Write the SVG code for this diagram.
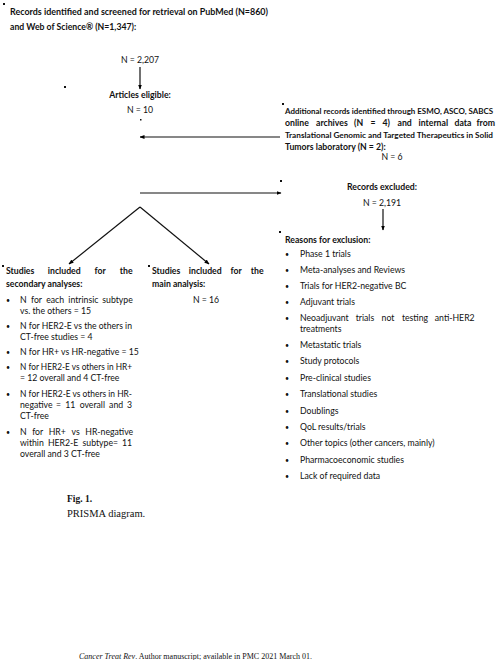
<svg xmlns="http://www.w3.org/2000/svg" width="500" height="660" viewBox="0 0 500 660">
<defs>
<marker id="ah" viewBox="0 0 10 10" refX="9" refY="5" markerWidth="5" markerHeight="5" orient="auto" markerUnits="userSpaceOnUse">
<path d="M0,1 L10,5 L0,9 z" fill="#000"/>
</marker>
</defs>
<style>
text{font-family:Lato,"Liberation Sans",Arial,sans-serif;font-size:8.7px;fill:#111}
.b{font-weight:bold}
.c{text-anchor:middle}
.u{font-size:7px}
.s{font-size:7.9px}
.cap{font-family:"Liberation Serif","Times New Roman",serif}
line{stroke:#111;stroke-width:1.2}
.dot{fill:#111}
</style>
<rect width="500" height="660" fill="#fff"/>
<g id="connectors">
<line x1="140" y1="67" x2="140" y2="89" marker-end="url(#ah)"/>
<line x1="280" y1="137" x2="140" y2="137" marker-end="url(#ah)"/>
<line x1="140" y1="193" x2="281" y2="193" marker-end="url(#ah)"/>
<line x1="383" y1="209" x2="383" y2="230" marker-end="url(#ah)"/>
<line x1="140" y1="207" x2="69" y2="264" marker-end="url(#ah)"/>
<line x1="140" y1="207" x2="209" y2="264" marker-end="url(#ah)"/>
</g>
<g id="records-identified">
<rect class="dot" x="3" y="3" width="2" height="2"/>
<text class="b" x="10" y="15" textLength="258" lengthAdjust="spacingAndGlyphs">Records identified and screened for retrieval on PubMed (N=860)</text>
<text class="b" x="10" y="30">and Web of Science® (N=1,347):</text>
<text class="c" x="140" y="63">N = 2,207</text>
</g>
<g id="articles-eligible">
<rect class="dot" x="64" y="86" width="2" height="2"/>
<text class="b c" x="140" y="98">Articles eligible:</text>
<text class="c" x="140" y="113">N = 10</text>
<rect class="dot" x="140" y="119" width="1.5" height="1.5"/>
</g>
<g id="additional-records">
<rect class="dot" x="282" y="103" width="2" height="2"/>
<text class="b s" x="285" y="114" textLength="208" lengthAdjust="spacingAndGlyphs">Additional records identified through ESMO, ASCO, SABCS</text>
<text class="b" y="126"><tspan x="285">online</tspan><tspan x="316">archives</tspan><tspan x="354">(N</tspan><tspan x="370.5">=</tspan><tspan x="382.5">4)</tspan><tspan x="397.5">and</tspan><tspan x="418.5">internal</tspan><tspan x="454.5">data</tspan><tspan x="476.5">from</tspan></text>
<text class="b s" x="285" y="138" textLength="208" lengthAdjust="spacingAndGlyphs">Translational Genomic and Targeted Therapeutics in Solid</text>
<text class="b" x="285" y="150">Tumors laboratory (N = 2):</text>
<text class="c" x="392" y="160">N = 6</text>
</g>
<g id="records-excluded">
<rect class="dot" x="280" y="180" width="2" height="2"/>
<text class="b c" x="382" y="190">Records excluded:</text>
<text class="c" x="382" y="206">N = 2,191</text>
</g>
<g id="reasons">
<rect class="dot" x="279" y="231" width="2" height="2"/>
<text class="b" x="285" y="243">Reasons for exclusion:</text>
<g>
<text class="u" x="285" y="257">•</text><text x="300" y="257">Phase 1 trials</text>
<text class="u" x="285" y="273">•</text><text x="300" y="273">Meta-analyses and Reviews</text>
<text class="u" x="285" y="289">•</text><text x="300" y="289">Trials for HER2-negative BC</text>
<text class="u" x="285" y="305">•</text><text x="300" y="305">Adjuvant trials</text>
<text class="u" x="285" y="321">•</text><text y="321"><tspan x="300">Neoadjuvant</tspan><tspan x="355.7">trials</tspan><tspan x="381.6">not</tspan><tspan x="401.9">testing</tspan><tspan x="434.8">anti-HER2</tspan></text>
<text x="300" y="332">treatments</text>
<text class="u" x="285" y="348">•</text><text x="300" y="348">Metastatic trials</text>
<text class="u" x="285" y="364">•</text><text x="300" y="364">Study protocols</text>
<text class="u" x="285" y="381">•</text><text x="300" y="381">Pre-clinical studies</text>
<text class="u" x="285" y="397">•</text><text x="300" y="397">Translational studies</text>
<text class="u" x="285" y="414">•</text><text x="300" y="414">Doublings</text>
<text class="u" x="285" y="430">•</text><text x="300" y="430">QoL results/trials</text>
<text class="u" x="285" y="446">•</text><text x="300" y="446">Other topics (other cancers, mainly)</text>
<text class="u" x="285" y="463">•</text><text x="300" y="463">Pharmacoeconomic studies</text>
<text class="u" x="285" y="479">•</text><text x="300" y="479">Lack of required data</text>
</g>
</g>
<g id="secondary-analyses">
<rect class="dot" x="2" y="265" width="2" height="2"/>
<text class="b" y="274"><tspan x="6">Studies</tspan><tspan x="47.8">included</tspan><tspan x="94.4">for</tspan><tspan x="119.8">the</tspan></text>
<text class="b" x="6" y="287">secondary analyses:</text>
<text class="u" x="6" y="303">•</text><text y="303"><tspan x="20">N</tspan><tspan x="31">for</tspan><tspan x="46.2">each</tspan><tspan x="68.3">intrinsic</tspan><tspan x="102.3">subtype</tspan></text>
<text x="20" y="314">vs. the others = 15</text>
<text class="u" x="6" y="329">•</text><text x="20" y="329" textLength="112" lengthAdjust="spacingAndGlyphs">N for HER2-E vs the others in</text>
<text x="20" y="340">CT-free studies = 4</text>
<text class="u" x="6" y="355">•</text><text x="20" y="355">N for HR+ vs HR-negative = 15</text>
<text class="u" x="6" y="370">•</text><text x="20" y="370" textLength="112" lengthAdjust="spacingAndGlyphs">N for HER2-E vs others in HR+</text>
<text x="20" y="381">= 12 overall and 4 CT-free</text>
<text class="u" x="6" y="397">•</text><text x="20" y="397" textLength="112" lengthAdjust="spacingAndGlyphs">N for HER2-E vs others in HR-</text>
<text y="408"><tspan x="20">negative</tspan><tspan x="56">=</tspan><tspan x="65.3">11</tspan><tspan x="79.7">overall</tspan><tspan x="109.1">and</tspan><tspan x="127">3</tspan></text>
<text x="20" y="419">CT-free</text>
<text class="u" x="6" y="435">•</text><text y="435"><tspan x="20">N</tspan><tspan x="32.2">for</tspan><tspan x="48.7">HR+</tspan><tspan x="71.5">vs</tspan><tspan x="85.3">HR-negative</tspan></text>
<text y="446"><tspan x="20">within</tspan><tspan x="47.9">HER2-E</tspan><tspan x="82.6">subtype=</tspan><tspan x="121.9">11</tspan></text>
<text x="20" y="457">overall and 3 CT-free</text>
</g>
<g id="main-analysis">
<rect class="dot" x="148" y="265" width="2" height="2"/>
<text class="b" y="274"><tspan x="152">Studies</tspan><tspan x="188.8">included</tspan><tspan x="230.4">for</tspan><tspan x="250.8">the</tspan></text>
<text class="b" x="152" y="287">main analysis:</text>
<text class="c" x="206" y="303">N = 16</text>
</g>
<g id="caption">
<text class="cap b" x="67" y="502" style="font-size:9.5px">Fig. 1.</text>
<text class="cap" x="67" y="517" style="font-size:10.5px">PRISMA diagram.</text>
<text class="cap" x="79" y="659" style="font-size:8px"><tspan font-style="italic">Cancer Treat Rev</tspan>. Author manuscript; available in PMC 2021 March 01.</text>
</g>
</svg>
